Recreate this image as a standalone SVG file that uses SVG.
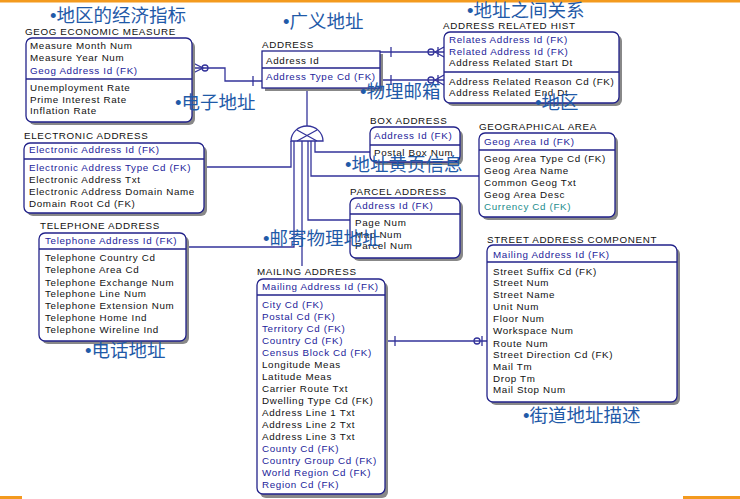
<svg xmlns="http://www.w3.org/2000/svg" width="740" height="499" viewBox="0 0 740 499">
<style>
text{font-family:"Liberation Sans",Arial,sans-serif;font-size:9.8px;letter-spacing:0.65px;fill:#111}
.k{fill:#23239a}
.c{fill:#1c8c8c}
.box{fill:#fff;stroke:#22228a;stroke-width:1.3}
.sh{fill:#888}
.dv{stroke:#22228a;stroke-width:1.3}
.ln{fill:none;stroke:#33339a;stroke-width:1.3}
.lb{font-family:"Liberation Sans","Noto Sans CJK SC",sans-serif;font-size:18.5px;fill:#1f5aa8;letter-spacing:0}
</style>
<rect width="740" height="499" fill="#fff"/>
<rect x="0" y="0" width="740" height="2.5" fill="#f39a1e"/>
<rect x="0" y="496" width="22" height="3" fill="#f39a1e"/>
<rect x="683" y="496" width="57" height="3" fill="#f39a1e"/>

<g id="connectors">
<polyline class="ln" points="193,68 225,68 225,81 262,81"/>
<line class="ln" x1="253" y1="76" x2="253" y2="86"/>
<path class="ln" d="M193,63 L203,68 L193,73"/><circle class="ln" cx="205" cy="68" r="3"/>
<line class="ln" x1="380" y1="52" x2="444" y2="52"/>
<line class="ln" x1="391" y1="47" x2="391" y2="57"/>
<circle class="ln" cx="431" cy="52" r="3"/><path class="ln" d="M444,47 L435,52 L444,57"/><line class="ln" x1="438" y1="47" x2="438" y2="57"/>
<line class="ln" x1="380" y1="80" x2="444" y2="80"/>
<line class="ln" x1="391" y1="75" x2="391" y2="85"/>
<circle class="ln" cx="431" cy="80" r="3"/><path class="ln" d="M444,75 L435,80 L444,85"/><line class="ln" x1="438" y1="75" x2="438" y2="85"/>
<line class="ln" x1="307" y1="88" x2="307" y2="126"/>
<path class="ln" d="M291,141 A16,15 0 0 1 323,141 Z"/>
<path class="ln" d="M297,130 L317,141 M317,130 L297,141"/>
<polyline class="ln" points="291,141 291,167 205,167"/>
<polyline class="ln" points="294,141 294,247 186,247"/>
<polyline class="ln" points="302,141 302,266"/>
<polyline class="ln" points="308,141 308,220 350,220"/>
<polyline class="ln" points="311,141 311,176 479,176"/>
<polyline class="ln" points="315,141 315,152 370,152"/>
<line class="ln" x1="385" y1="341" x2="487" y2="341"/>
<line class="ln" x1="395" y1="336" x2="395" y2="346"/>
<circle class="ln" cx="477" cy="341" r="3"/><line class="ln" x1="482" y1="336" x2="482" y2="346"/>
</g>

<g id="geog-economic-measure">
<text x="25" y="35">GEOG ECONOMIC MEASURE</text>
<rect class="sh" x="29" y="41" width="166" height="84" rx="6"/>
<rect class="box" x="26" y="38" width="166" height="84" rx="6"/>
<line class="dv" x1="26" y1="79" x2="192" y2="79"/>
<text x="30" y="49">Measure Month Num</text>
<text x="30" y="61">Measure Year Num</text>
<text class="k" x="30" y="74">Geog Address Id (FK)</text>
<text x="30" y="91">Unemployment Rate</text>
<text x="30" y="103">Prime Interest Rate</text>
<text x="30" y="114">Inflation Rate</text>
</g>

<g id="address">
<text x="262" y="48">ADDRESS</text>
<rect class="sh" x="265" y="54" width="118" height="37"/>
<rect class="box" x="262" y="51" width="118" height="37"/>
<line class="dv" x1="262" y1="68" x2="380" y2="68"/>
<text x="266" y="64">Address Id</text>
<text class="k" x="266" y="80">Address Type Cd (FK)</text>
</g>

<g id="address-related-hist">
<text x="443" y="29">ADDRESS RELATED HIST</text>
<rect class="sh" x="447" y="35" width="175" height="71" rx="6"/>
<rect class="box" x="444" y="32" width="175" height="71" rx="6"/>
<line class="dv" x1="444" y1="72" x2="619" y2="72"/>
<text class="k" x="449" y="43">Relates Address Id (FK)</text>
<text class="k" x="449" y="55">Related Address Id (FK)</text>
<text x="449" y="66">Address Related Start Dt</text>
<text x="449" y="85">Address Related Reason Cd (FK)</text>
<text x="449" y="96">Address Related End Dt</text>
</g>

<g id="electronic-address">
<text x="24" y="139">ELECTRONIC ADDRESS</text>
<rect class="sh" x="27" y="146" width="180" height="70" rx="6"/>
<rect class="box" x="24" y="143" width="180" height="70" rx="6"/>
<line class="dv" x1="24" y1="159" x2="204" y2="159"/>
<text class="k" x="29" y="153">Electronic Address Id (FK)</text>
<text class="k" x="29" y="171">Electronic Address Type Cd (FK)</text>
<text x="29" y="183">Electronic Address Txt</text>
<text x="29" y="195">Electronic Address Domain Name</text>
<text x="29" y="207">Domain Root Cd (FK)</text>
</g>

<g id="box-address">
<text x="370" y="124">BOX ADDRESS</text>
<rect class="sh" x="373" y="130" width="90" height="35" rx="6"/>
<rect class="box" x="370" y="127" width="90" height="35" rx="6"/>
<line class="dv" x1="370" y1="145" x2="460" y2="145"/>
<text class="k" x="374" y="139">Address Id (FK)</text>
<text x="374" y="156">Postal Box Num</text>
</g>

<g id="geographical-area">
<text x="479" y="130">GEOGRAPHICAL AREA</text>
<rect class="sh" x="482" y="136" width="136" height="84" rx="6"/>
<rect class="box" x="479" y="133" width="136" height="84" rx="6"/>
<line class="dv" x1="479" y1="150" x2="615" y2="150"/>
<text class="k" x="484" y="145">Geog Area Id (FK)</text>
<text x="484" y="162">Geog Area Type Cd (FK)</text>
<text x="484" y="174">Geog Area Name</text>
<text x="484" y="186">Common Geog Txt</text>
<text x="484" y="198">Geog Area Desc</text>
<text class="c" x="484" y="210">Currency Cd (FK)</text>
</g>

<g id="parcel-address">
<text x="350" y="195">PARCEL ADDRESS</text>
<rect class="sh" x="353" y="201" width="110" height="60" rx="6"/>
<rect class="box" x="350" y="198" width="110" height="60" rx="6"/>
<line class="dv" x1="350" y1="214" x2="460" y2="214"/>
<text class="k" x="355" y="209">Address Id (FK)</text>
<text x="355" y="226">Page Num</text>
<text x="355" y="238">Map Num</text>
<text x="355" y="249">Parcel Num</text>
</g>

<g id="telephone-address">
<text x="40" y="229">TELEPHONE ADDRESS</text>
<rect class="sh" x="42" y="236" width="147" height="108" rx="6"/>
<rect class="box" x="39" y="233" width="147" height="108" rx="6"/>
<line class="dv" x1="39" y1="249" x2="186" y2="249"/>
<text class="k" x="45" y="244">Telephone Address Id (FK)</text>
<text x="45" y="261">Telephone Country Cd</text>
<text x="45" y="273">Telephone Area Cd</text>
<text x="45" y="286">Telephone Exchange Num</text>
<text x="45" y="297">Telephone Line Num</text>
<text x="45" y="309">Telephone Extension Num</text>
<text x="45" y="321">Telephone Home Ind</text>
<text x="45" y="333">Telephone Wireline Ind</text>
</g>

<g id="mailing-address">
<text x="257" y="275">MAILING ADDRESS</text>
<rect class="sh" x="260" y="282" width="128" height="216" rx="6"/>
<rect class="box" x="257" y="279" width="128" height="215" rx="6"/>
<line class="dv" x1="257" y1="295" x2="385" y2="295"/>
<text class="k" x="262" y="290">Mailing Address Id (FK)</text>
<text class="k" x="262" y="308">City Cd (FK)</text>
<text class="k" x="262" y="320">Postal Cd (FK)</text>
<text class="k" x="262" y="332">Territory Cd (FK)</text>
<text class="k" x="262" y="344">Country Cd (FK)</text>
<text class="k" x="262" y="356">Census Block Cd (FK)</text>
<text x="262" y="368">Longitude Meas</text>
<text x="262" y="380">Latitude Meas</text>
<text x="262" y="392">Carrier Route Txt</text>
<text x="262" y="404">Dwelling Type Cd (FK)</text>
<text x="262" y="416">Address Line 1 Txt</text>
<text x="262" y="428">Address Line 2 Txt</text>
<text x="262" y="440">Address Line 3 Txt</text>
<text class="k" x="262" y="452">County Cd (FK)</text>
<text class="k" x="262" y="464">Country Group Cd (FK)</text>
<text class="k" x="262" y="476">World Region Cd (FK)</text>
<text class="k" x="262" y="488">Region Cd (FK)</text>
</g>

<g id="street-address-component">
<text x="487" y="243">STREET ADDRESS COMPONENT</text>
<rect class="sh" x="490" y="248" width="190" height="157" rx="6"/>
<rect class="box" x="487" y="245" width="190" height="157" rx="6"/>
<line class="dv" x1="487" y1="262" x2="677" y2="262"/>
<text class="k" x="493" y="258">Mailing Address Id (FK)</text>
<text x="493" y="275">Street Suffix Cd (FK)</text>
<text x="493" y="286">Street Num</text>
<text x="493" y="298">Street Name</text>
<text x="493" y="310">Unit Num</text>
<text x="493" y="322">Floor Num</text>
<text x="493" y="334">Workspace Num</text>
<text x="493" y="347">Route Num</text>
<text x="493" y="358">Street Direction Cd (FK)</text>
<text x="493" y="370">Mail Tm</text>
<text x="493" y="382">Drop Tm</text>
<text x="493" y="393">Mail Stop Num</text>
</g>

<g id="labels">
<text class="lb" x="50" y="22">•地区的经济指标</text>
<text class="lb" x="283" y="28">•广义地址</text>
<text class="lb" x="467" y="17">•地址之间关系</text>
<text class="lb" x="175" y="109">•电子地址</text>
<text class="lb" x="360" y="98">•物理邮箱</text>
<text class="lb" x="535" y="109">•地区</text>
<text class="lb" x="345" y="171">•地址黄页信息</text>
<text class="lb" x="263" y="245">•邮寄物理地址</text>
<text class="lb" x="85" y="357">•电话地址</text>
<text class="lb" x="523" y="422">•街道地址描述</text>
</g>
</svg>
